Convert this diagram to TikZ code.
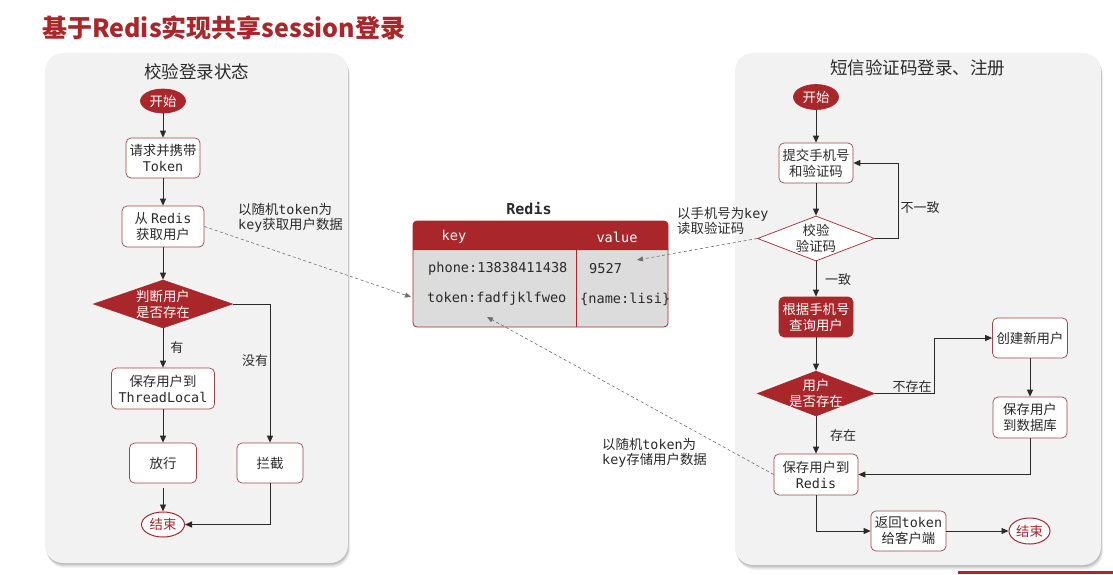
\documentclass[tikz,border=0pt]{standalone}
\usepackage{fontspec}
\setmainfont{Noto Sans CJK SC}
\newfontfamily\monofont{DejaVu Sans Mono}
\usetikzlibrary{arrows.meta,shapes.geometric}

\definecolor{brick}{HTML}{A9272B}
\definecolor{boxline}{HTML}{A04547}
\definecolor{panelbg}{HTML}{F2F2F2}
\definecolor{tabbody}{HTML}{DCDCDC}
\definecolor{ink}{HTML}{2A2A2A}
\definecolor{linkgray}{HTML}{6E6E6E}

\newcommand{\mn}[1]{{\monofont #1}}

\begin{document}
\begin{tikzpicture}[x=1pt, y=-1pt,
  txt/.style={font=\fontsize{13.4}{16}\selectfont, text=ink, inner sep=0pt, align=center},
  box/.style={txt, draw=boxline, line width=0.7pt, fill=white, rounded corners=5pt},
  redbox/.style={box, draw=brick, fill=brick, text=white},
  dia/.style={shape=diamond, inner sep=0pt, draw=brick, line width=0.7pt},
  startnode/.style={txt, ellipse, draw=brick, fill=brick, text=white, line width=0.7pt},
  endnode/.style={txt, ellipse, draw=brick, fill=white, text=brick, line width=1pt},
  flow/.style={draw=ink, line width=0.9pt, -{Triangle[length=7pt,width=6pt]}},
  link/.style={draw=linkgray, line width=0.6pt, dash pattern=on 3pt off 2.5pt, -{Triangle[length=6pt,width=5pt]}},
  lbl/.style={font=\fontsize{13}{15}\selectfont, text=ink, inner sep=0pt},
  note/.style={font=\fontsize{13.4}{15}\selectfont, text=ink, inner sep=0pt, align=left, anchor=west},
  cell/.style={font=\fontsize{13.6}{16}\selectfont\monofont, inner sep=0pt, text=ink},
  paneltitle/.style={font=\fontsize{17.5}{20}\selectfont, text=ink, inner sep=0pt},
]
\useasboundingbox (0,0) rectangle (1113,574);
\fill[white] (0,0) rectangle (1113,574);

% page heading
\node[anchor=west, font=\fontsize{25}{30}\selectfont\bfseries, text=brick, inner sep=0pt] (title) at (42,28) {基于Redis实现共享session登录};
\fill[brick] (958,571) rectangle (1113,574);

% panels with soft shadows
\foreach \o/\a in {5/0.04,4/0.05,3/0.06,2/0.07,1/0.08} {
  \fill[black, opacity=\a, rounded corners=18pt] (45+0.4*\o,53+\o) rectangle (348+0.4*\o,563+\o);
  \fill[black, opacity=\a, rounded corners=18pt] (735+0.4*\o,53+\o) rectangle (1101+0.4*\o,565+\o);
}
\fill[panelbg, rounded corners=18pt] (45,53) rectangle (348,563);
\fill[panelbg, rounded corners=18pt] (735,53) rectangle (1101,565);
\node[paneltitle] (ltitle) at (196.5,72) {校验登录状态};
\node[paneltitle] (rtitle) at (917.5,68) {短信验证码登录、注册};

% ---------- left flow: check login state ----------
\node[startnode, minimum width=45pt, minimum height=24pt] (s1) at (163,101) {开始};
\node[box, minimum width=74pt, minimum height=40pt] (req) at (163,158) {请求并携带\\\mn{Token}};
\node[box, minimum width=82pt, minimum height=41pt] (getr) at (163,226.5) {从 \mn{Redis}\\获取用户};
\node[dia, fill=brick, minimum width=139pt, minimum height=48pt] (d1) at (163,304) {};
\node[txt, text=white] (d1t) at (d1) {判断用户\\是否存在};
\node[box, minimum width=103pt, minimum height=41pt] (tl) at (163,388.5) {保存用户到\\\mn{ThreadLocal}};
\node[box, minimum width=67pt, minimum height=40pt] (pass) at (163,463) {放行};
\node[box, minimum width=66pt, minimum height=40pt] (block) at (270,463) {拦截};
\node[endnode, minimum width=43pt, minimum height=25pt] (e1) at (163,524.5) {结束};

\draw[flow] (s1) -- (req);
\draw[flow] (req) -- (getr);
\draw[flow] (getr) -- (d1.north);
\draw[flow] (d1.south) -- node[lbl, right=7pt] (yes1) {有} (tl);
\draw[flow] (tl) -- (pass);
\draw[flow, shorten <=5pt] (pass) -- (e1);
\draw[flow] (d1.east) -| (block.north);
\node[lbl] (no1) at (255,361) {没有};
\draw[flow] (block.south) |- (e1.east);

% ---------- Redis table ----------
\node[font=\fontsize{15}{18}\selectfont\monofont\bfseries, text=ink, inner sep=0pt] (rtitle2) at (529,209) {Redis};
\node[draw=brick, fill=tabbody, line width=0.8pt, rounded corners=4pt, minimum width=255pt, minimum height=106pt, inner sep=0pt] (tab) at (540.5,274) {};
\fill[brick] (413,250) [rounded corners=4pt] -- (413,221) -- (668,221) [sharp corners] -- (668,250) -- cycle;
\draw[brick, line width=0.8pt] (576,250) -- (576,327);
\node[cell, text=white] (hkey) at (454,237) {key};
\node[cell, text=white] (hval) at (617,237) {value};
\node[cell, anchor=west] (kphone) at (428,269) {phone:13838411438};
\node[cell, anchor=west] (vphone) at (589,269) {9527};
\node[cell, anchor=west] (ktoken) at (427,299) {token:fadfjklfweo};
\node[cell, anchor=west] (vtoken) at (580,299) {\{name:lisi\}};
\coordinate (in1) at (411,297);
\coordinate (in2) at (637,260);
\coordinate (in3) at (487,317);

% ---------- right flow: SMS code login / register ----------
\node[startnode, minimum width=45pt, minimum height=25pt] (s2) at (816,97) {开始};
\node[box, minimum width=74pt, minimum height=40pt] (submit) at (816,163) {提交手机号\\和验证码};
\node[dia, fill=white, minimum width=117pt, minimum height=45pt] (d2) at (816,238.5) {};
\node[txt] (d2t) at (d2) {校验\\验证码};
\node[redbox, minimum width=74pt, minimum height=40pt] (query) at (816,317) {根据手机号\\查询用户};
\node[dia, fill=brick, minimum width=117pt, minimum height=45pt] (d3) at (816,393.5) {};
\node[txt, text=white] (d3t) at (d3) {用户\\是否存在};
\node[box, minimum width=75pt, minimum height=40pt] (create) at (1030,338) {创建新用户};
\node[box, minimum width=74pt, minimum height=41pt] (db) at (1030,417.5) {保存用户\\到数据库};
\node[box, minimum width=84pt, minimum height=41pt] (saver) at (816,474.5) {保存用户到\\\mn{Redis}};
\node[box, minimum width=75pt, minimum height=40pt] (ret) at (908.5,531) {返回\mn{token}\\给客户端};
\node[endnode, minimum width=41pt, minimum height=26pt] (e2) at (1029.5,531) {结束};

\draw[flow] (s2) -- (submit);
\draw[flow] (submit) -- (d2.north);
\draw[flow] (d2.east) -- ++(23.5,0) |- (submit.east);
\node[lbl] (neq) at (920,208) {不一致};
\draw[flow] (d2.south) -- (query);
\node[lbl] (eq) at (838,280) {一致};
\draw[flow] (query) -- (d3.north);
\draw[flow] (d3.east) -- ++(59.5,0) |- (create.west);
\node[lbl] (nex) at (912,387) {不存在};
\draw[flow] (create) -- (db);
\draw[flow] (d3.south) -- (saver);
\node[lbl] (ex) at (843,436) {存在};
\draw[flow] (db.south) |- (saver.east);
\draw[flow] (saver.south) |- (ret.west);
\draw[flow] (ret) -- (e2);

% ---------- Redis access notes ----------
\node[note] (n1) at (238,218) {以随机\mn{token}为\\\mn{key}获取用户数据};
\node[note] (n2) at (677,221) {以手机号为\mn{key}\\读取验证码};
\node[note] (n3) at (602,453) {以随机\mn{token}为\\\mn{key}存储用户数据};
\draw[link] (getr.east) -- (in1);
\draw[link] (d2.west) -- (in2);
\draw[link] (saver.west) -- (in3);
\end{tikzpicture}
\end{document}
